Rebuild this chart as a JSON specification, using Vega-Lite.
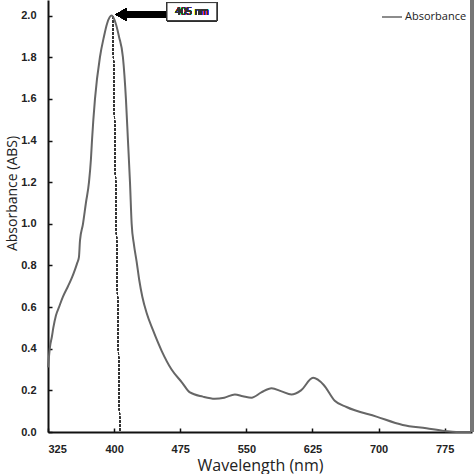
{
  "$schema": "https://vega.github.io/schema/vega-lite/v6.json",
  "width": 424,
  "height": 432,
  "autosize": {"type": "none"},
  "padding": {"left": 48, "top": 0, "right": 2, "bottom": 42},
  "background": "white",
  "config": {
    "view": {"stroke": null},
    "axis": {
      "grid": false,
      "domainColor": "#111",
      "domainWidth": 2,
      "tickColor": "#111",
      "tickWidth": 1.5,
      "tickSize": -4,
      "labelFont": "Liberation Sans",
      "labelFontWeight": "bold",
      "labelFontSize": 11,
      "labelColor": "#222",
      "titleFont": "Open Sans",
      "titleFontWeight": "normal",
      "titleColor": "#222"
    }
  },
  "data": {
    "values": [
      {"wl": 325, "abs": 0.31}, {"wl": 327.3, "abs": 0.41}, {"wl": 329.5, "abs": 0.46},
      {"wl": 331, "abs": 0.50}, {"wl": 334, "abs": 0.56}, {"wl": 337.5, "abs": 0.60},
      {"wl": 342, "abs": 0.65}, {"wl": 347.7, "abs": 0.70}, {"wl": 352, "abs": 0.74},
      {"wl": 355.6, "abs": 0.78}, {"wl": 358, "abs": 0.81}, {"wl": 360.1, "abs": 0.84},
      {"wl": 361.3, "abs": 0.92}, {"wl": 364.7, "abs": 1.00}, {"wl": 368, "abs": 1.10},
      {"wl": 371.5, "abs": 1.20}, {"wl": 373.7, "abs": 1.31}, {"wl": 374.9, "abs": 1.40},
      {"wl": 378.3, "abs": 1.60}, {"wl": 383.9, "abs": 1.80}, {"wl": 388.5, "abs": 1.90},
      {"wl": 391.9, "abs": 1.96}, {"wl": 397.2, "abs": 2.00}, {"wl": 402, "abs": 1.96},
      {"wl": 405.5, "abs": 1.90}, {"wl": 410, "abs": 1.80}, {"wl": 413.4, "abs": 1.60},
      {"wl": 415.7, "abs": 1.40}, {"wl": 418, "abs": 1.20}, {"wl": 419.9, "abs": 1.00},
      {"wl": 422.5, "abs": 0.90}, {"wl": 425.5, "abs": 0.82}, {"wl": 428.5, "abs": 0.73},
      {"wl": 432, "abs": 0.65}, {"wl": 437, "abs": 0.57}, {"wl": 444, "abs": 0.49},
      {"wl": 453.9, "abs": 0.39}, {"wl": 465.2, "abs": 0.30}, {"wl": 476.6, "abs": 0.24},
      {"wl": 486, "abs": 0.19}, {"wl": 500.7, "abs": 0.17}, {"wl": 514.3, "abs": 0.16},
      {"wl": 525, "abs": 0.165}, {"wl": 537, "abs": 0.18}, {"wl": 546, "abs": 0.172},
      {"wl": 555.9, "abs": 0.165}, {"wl": 567, "abs": 0.19}, {"wl": 578.6, "abs": 0.21},
      {"wl": 590, "abs": 0.195}, {"wl": 601.2, "abs": 0.18}, {"wl": 612, "abs": 0.20},
      {"wl": 625.7, "abs": 0.26}, {"wl": 637.8, "abs": 0.226}, {"wl": 650.3, "abs": 0.15},
      {"wl": 663.6, "abs": 0.12}, {"wl": 697.6, "abs": 0.074}, {"wl": 727.4, "abs": 0.034},
      {"wl": 754.3, "abs": 0.018}, {"wl": 775, "abs": 0.005}, {"wl": 788, "abs": 0.0},
      {"wl": 805, "abs": 0.0}
    ]
  },
  "layer": [
    {
      "mark": {"type": "rule", "color": "#777", "strokeWidth": 3},
      "encoding": {"x": {"datum": 806, "type": "quantitative"}}
    },
    {
      "mark": {"type": "rule", "color": "#333", "strokeWidth": 1, "strokeDash": [2, 2]},
      "encoding": {
        "x": {"datum": 398.5, "type": "quantitative"},
        "y": {"datum": 1.995, "type": "quantitative"},
        "x2": {"datum": 406.5},
        "y2": {"datum": 0}
      }
    },
    {
      "mark": {"type": "line", "color": "#666", "strokeWidth": 2, "interpolate": "monotone"},
      "encoding": {
        "x": {
          "field": "wl", "type": "quantitative",
          "scale": {"domain": [325, 806], "nice": false, "zero": false},
          "axis": {"values": [325, 400, 475, 550, 625, 700, 775], "title": "Wavelength (nm)", "titleFontSize": 16, "labelPadding": 15, "titlePadding": 3}
        },
        "y": {
          "field": "abs", "type": "quantitative",
          "scale": {"domain": [0, 2.075], "nice": false},
          "axis": {"values": [0, 0.2, 0.4, 0.6, 0.8, 1.0, 1.2, 1.4, 1.6, 1.8, 2.0], "format": ".1f", "title": "Absorbance (ABS)", "titleFontSize": 14, "labelPadding": 16, "titleY": 193, "titlePadding": 1}
        },
        "color": {
          "datum": "Absorbance",
          "type": "nominal",
          "scale": {"range": ["#666"]},
          "legend": {"orient": "none", "legendX": 333, "legendY": 6, "title": null, "symbolType": "stroke", "symbolSize": 400, "symbolStrokeWidth": 1.5, "labelFont": "Open Sans", "labelFontSize": 11, "labelColor": "#222", "labelOffset": 2}
        }
      }
    },
    {
      "mark": {"type": "rule", "color": "#000", "strokeWidth": 6},
      "encoding": {
        "x": {"datum": 410.5, "type": "quantitative"},
        "x2": {"datum": 459},
        "y": {"datum": 2.005, "type": "quantitative"}
      }
    },
    {
      "mark": {"type": "point", "shape": "triangle-left", "filled": true, "color": "#000", "size": 170, "opacity": 1},
      "encoding": {
        "x": {"datum": 408.2, "type": "quantitative"},
        "y": {"datum": 2.005, "type": "quantitative"}
      }
    },
    {
      "mark": {"type": "rect", "fill": "#ffffff", "fillOpacity": 1, "stroke": "#333", "strokeWidth": 1},
      "encoding": {
        "x": {"datum": 460, "type": "quantitative"},
        "x2": {"datum": 516.5},
        "y": {"datum": 2.0625, "type": "quantitative"},
        "y2": {"datum": 1.976}
      }
    },
    {
      "mark": {"type": "text", "text": "405 nm", "font": "Liberation Sans", "fontSize": 10, "fontWeight": "normal", "color": "#333", "align": "center", "baseline": "middle"},
      "encoding": {
        "x": {"datum": 488.2, "type": "quantitative"},
        "y": {"datum": 2.019, "type": "quantitative"}
      }
    }
  ]
}
